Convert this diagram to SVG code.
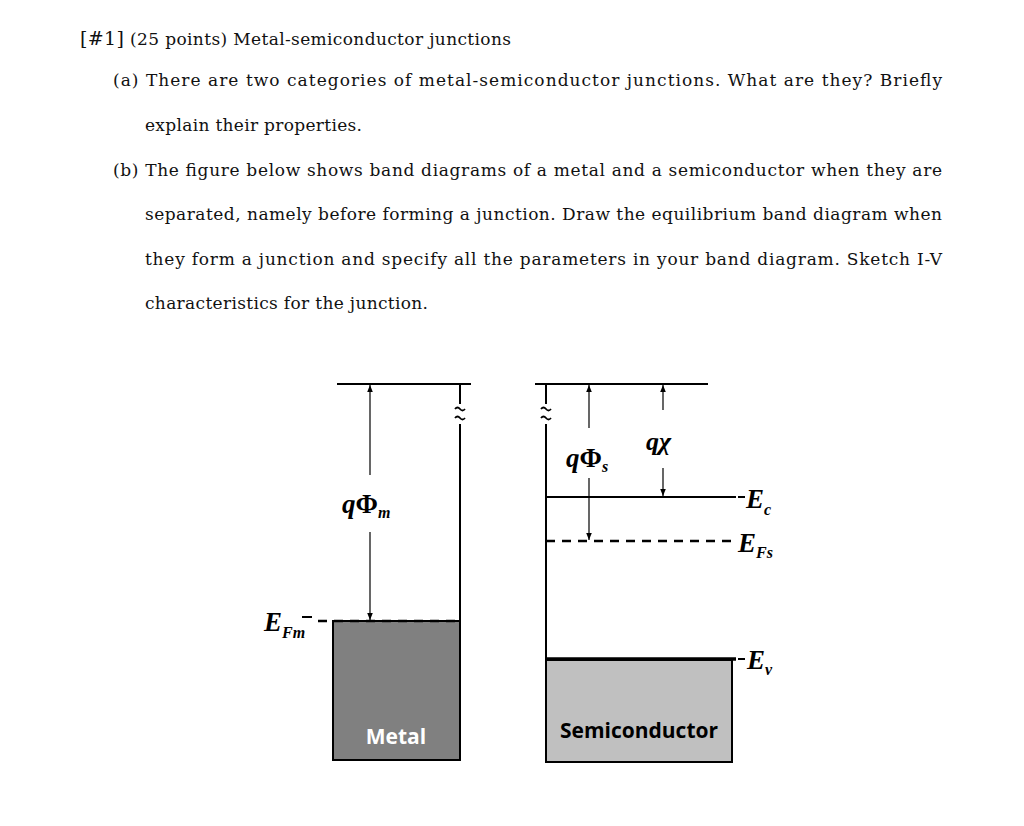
<svg xmlns="http://www.w3.org/2000/svg" width="1024" height="826" viewBox="0 0 1024 826">
<defs>
<marker id="ah" viewBox="0 0 10 10" refX="10" refY="5" markerWidth="6" markerHeight="6" orient="auto-start-reverse"><path d="M0,1 L10,5 L0,9 z" fill="#000"/></marker>
</defs>
<style>
.t{font-family:"DejaVu Serif","Liberation Serif",serif;font-size:17px;fill:#111}
.l{stroke:#000;stroke-width:2;fill:none}
.a{stroke:#000;stroke-width:1.2;fill:none;marker-end:url(#ah)}
.d{stroke:#000;stroke-width:2.5;stroke-dasharray:9,7;fill:none}
.s{font-family:"Liberation Serif",serif;font-style:italic;font-weight:bold;fill:#000}
.u{font-style:normal}
.b{font-family:"Open Sans","Liberation Sans",sans-serif;font-weight:bold;font-size:21px}
.w{stroke:#000;stroke-width:1.8;fill:none}
</style>
<rect width="1024" height="826" fill="#fff"/>
<g id="text">
<text class="t" x="80" y="45" textLength="431"><tspan font-size="19">[#1]</tspan> (25 points) Metal-semiconductor junctions</text>
<text class="t" x="113" y="86" textLength="829">(a) There are two categories of metal-semiconductor junctions. What are they? Briefly</text>
<text class="t" x="145" y="131" textLength="217">explain their properties.</text>
<text class="t" x="113" y="176" textLength="829">(b) The figure below shows band diagrams of a metal and a semiconductor when they are</text>
<text class="t" x="145" y="220" textLength="797">separated, namely before forming a junction. Draw the equilibrium band diagram when</text>
<text class="t" x="145" y="265" textLength="797">they form a junction and specify all the parameters in your band diagram. Sketch I-V</text>
<text class="t" x="145" y="309" textLength="283">characteristics for the junction.</text>
</g>
<g id="metal">
<rect x="333" y="621" width="127" height="139" fill="#808080" stroke="#000" stroke-width="2"/>
<text class="b" x="396" y="744" text-anchor="middle" fill="#fff">Metal</text>
</g>
<g id="semiconductor">
<rect x="546" y="660" width="186" height="102" fill="#c0c0c0" stroke="#000" stroke-width="2"/>
<text class="b" x="639" y="738" text-anchor="middle" fill="#000">Semiconductor</text>
</g>
<g id="connectors">
<line class="l" x1="337" y1="384" x2="471" y2="384"/>
<line class="l" x1="535" y1="384" x2="708" y2="384"/>
<line class="l" x1="460" y1="384" x2="460" y2="621"/>
<line class="l" x1="546" y1="384" x2="546" y2="660"/>
<line class="d" x1="318" y1="621" x2="460" y2="621"/>
<line class="l" x1="546" y1="497" x2="736" y2="497"/>
<line class="d" x1="546" y1="541" x2="736" y2="541"/>
<line stroke="#000" stroke-width="3.5" x1="546" y1="659" x2="736" y2="659"/>
<line class="a" x1="370" y1="475" x2="370" y2="385"/>
<line class="a" x1="370" y1="532" x2="370" y2="620"/>
<line class="a" x1="589" y1="428" x2="589" y2="385"/>
<line class="a" x1="589" y1="478" x2="589" y2="540"/>
<line class="a" x1="663" y1="410" x2="663" y2="385"/>
<line class="a" x1="663" y1="468" x2="663" y2="496"/>
<rect x="455" y="404" width="10" height="20" fill="#fff"/>
<path class="w" d="M455,409 q2.5,-3 5,0 t5,0 M455,418 q2.5,-3 5,0 t5,0"/>
<rect x="541" y="404" width="10" height="20" fill="#fff"/>
<path class="w" d="M541,409 q2.5,-3 5,0 t5,0 M541,418 q2.5,-3 5,0 t5,0"/>
</g>
<g id="labels">
<text class="s" x="342" y="513" font-size="27">q<tspan class="u">Φ</tspan><tspan font-size="16" dy="5">m</tspan></text>
<text class="s" x="566" y="467" font-size="27">q<tspan class="u">Φ</tspan><tspan font-size="16" dy="5">s</tspan></text>
<text class="s" x="646" y="450" font-size="26" font-weight="normal">qχ</text>
<text class="s" x="746" y="508" font-size="27">E<tspan font-size="16" dy="7">c</tspan></text>
<text class="s" x="738" y="552" font-size="27">E<tspan font-size="16" dy="6">Fs</tspan></text>
<text class="s" x="747" y="669" font-size="27">E<tspan font-size="16" dy="6">v</tspan></text>
<text class="s" x="264" y="631" font-size="27">E<tspan font-size="16" dy="7">Fm</tspan></text>
<line class="l" x1="738" y1="497" x2="745" y2="497"/>
<line class="l" x1="738" y1="659" x2="745" y2="659"/>
<line class="l" x1="302" y1="617" x2="312" y2="617"/>
</g>
</svg>
